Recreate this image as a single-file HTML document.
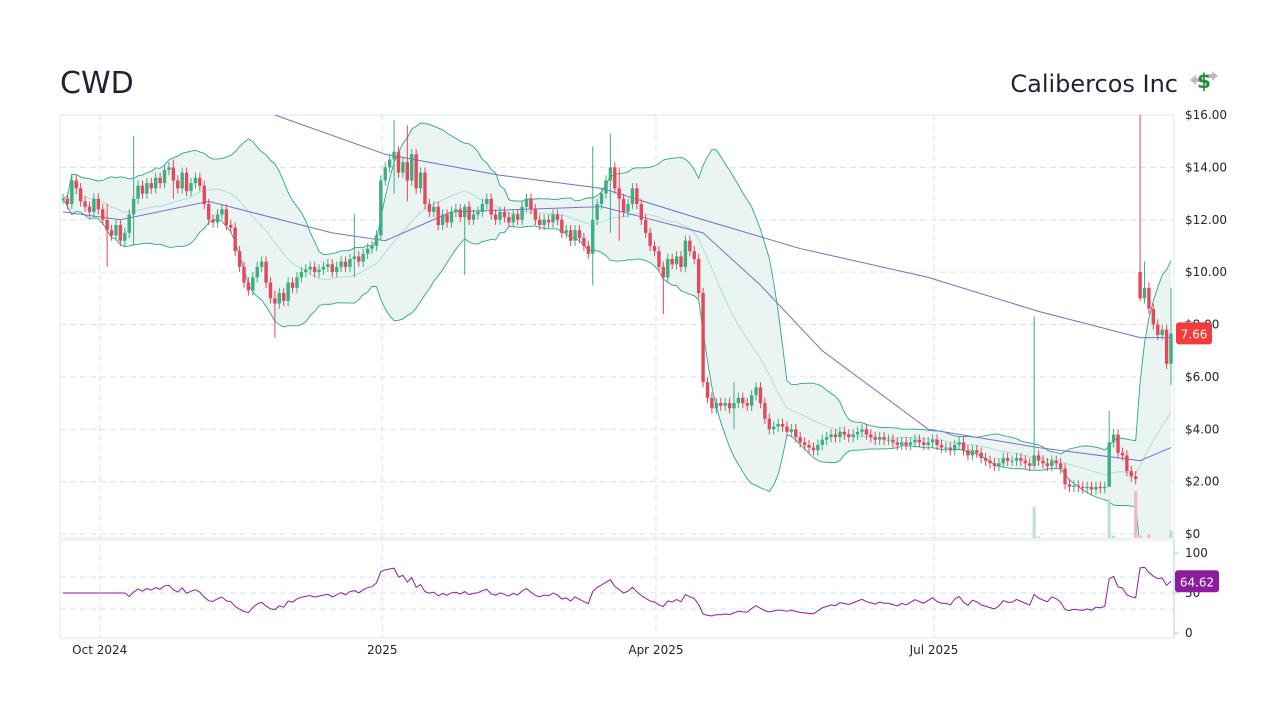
<!DOCTYPE html>
<html><head><meta charset="utf-8"><style>
body{margin:0;background:#fff;font-family:"Liberation Sans","DejaVu Sans",sans-serif}
svg text{font-family:"DejaVu Sans","Liberation Sans",sans-serif}
</style></head><body>
<svg id="c" width="1280" height="720" xmlns="http://www.w3.org/2000/svg">
<defs><clipPath id="pc"><rect x="60" y="115" width="1114" height="423"/></clipPath></defs>
<text x="60" y="93" font-size="30" fill="#1e2235">CWD</text>
<text x="1178" y="92" font-size="24" fill="#1e2235" text-anchor="end">Calibercos Inc</text>
<g>
<path d="M1190 80 l6 -5 v3 h5 v4 h-5 v3z M1218 76 l-6 -5 v3 h-5 v4 h5 v3z" fill="#bbb"/>
<text x="1204" y="88" font-size="20" font-weight="bold" fill="#1e8c3a" text-anchor="middle">$</text>
</g>
<g id="grid"></g><g clip-path="url(#pc)"><g id="bands"></g><g id="vol"></g><g id="candles"></g></g><g id="rsi"></g><g id="axes"></g>
</svg>
<script>
const closes=[12.8,12.6,13.5,13.2,12.7,12.5,12.3,12.8,12.4,
12.0,11.6,11.4,11.8,11.2,11.5,
12.2,12.8,13.3,13.0,13.4,13.2,
13.6,13.4,13.9,14.0,13.5,13.2,13.8,13.1,13.4,13.6,13.3,
12.6,12.0,11.9,12.2,12.4,11.8,11.7,
10.8,10.2,9.6,9.3,9.8,10.2,10.4,
9.6,9.0,8.8,9.2,8.9,9.6,9.4,9.8,
10.0,10.1,10.2,10.0,10.1,10.2,10.3,10.0,10.2,10.4,10.2,10.5,10.6,10.4,
10.7,10.9,11.0,11.4,
13.5,14.0,14.3,14.6,13.8,14.2,13.5,
14.5,13.2,13.8,12.6,12.3,12.5,
11.8,12.2,11.9,12.3,12.4,12.1,12.5,12.0,12.2,12.3,12.6,12.8,12.2,
12.0,12.3,12.1,11.9,12.2,12.0,12.5,12.8,12.4,12.0,11.8,
12.0,11.9,12.2,12.0,11.5,11.6,11.2,11.6,11.3,11.0,
10.7,12.0,12.6,13.0,13.5,14.0,13.2,12.8,12.3,12.6,
13.2,12.6,12.0,11.5,11.0,10.8,
10.2,9.8,10.5,10.3,10.6,10.2,11.2,10.8,10.5,
9.2,5.8,5.2,
4.8,5.0,4.9,5.0,4.8,5.0,5.2,5.0,4.9,5.3,5.6,5.0,
4.4,4.0,4.1,4.2,4.1,3.9,4.0,3.7,
3.5,3.4,3.3,3.2,3.4,3.6,3.7,
3.8,3.7,3.9,3.8,3.7,3.8,3.9,4.0,3.8,3.7,3.6,3.7,3.6,
3.6,3.5,3.4,3.5,3.4,3.5,3.6,3.5,3.4,3.5,3.6,3.4,3.3,
3.3,3.2,3.4,3.5,3.2,3.0,3.2,3.1,
2.9,2.8,2.7,2.6,2.7,2.9,2.8,
2.8,2.9,2.8,2.7,2.6,3.0,2.8,2.7,2.6,2.8,2.7,2.5,
1.9,1.8,1.85,1.8,1.75,1.8,1.7,1.8,1.75,1.8,
3.5,3.8,3.1,3.0,2.4,
2.2,2.1,
9.0,
9.4,8.6,8.0,7.6,7.8,6.5,7.66];
const spikeIdx=[10,16,25,48,66,75,78,91,120,124,126,136,152,220,237,244,245,251];
const spikeOpen=[null,null,null,null,null,null,null,null,null,null,null,null,null,null,null,10.0,null,null];
const spikeHigh=[12.6,15.2,14.3,9.3,12.2,15.8,15.6,12.6,14.8,15.3,14.0,10.4,5.8,8.3,4.7,16.0,10.4,9.4];
const spikeLow=[10.2,11.0,12.8,7.5,9.8,13.0,12.7,9.9,9.5,11.5,11.2,8.4,4.0,2.5,2.5,8.9,8.8,5.7];
const volIdx=[220,221,237,238,243,244,246,251];
const volVals=[1.2,0.05,1.5,0.08,1.8,0.1,0.15,0.3];
const sma50Idx=[0,13,33,61,73,88,122,145,158,172,196,221,244,251];
const sma50Vals=[12.3,12.0,12.7,11.5,11.2,12.3,12.5,11.5,9.5,7.0,4.0,3.3,2.8,3.3];
const sma200Idx=[48,73,99,122,145,167,196,221,244,251];
const sma200Vals=[16.0,14.5,13.7,13.2,12.0,10.9,9.8,8.5,7.5,7.5];
const priceTicks=[0,2,4,6,8,10,12,14,16];
const rsiTicks=[0,50,100];
const dateLabels=["Oct 2024","2025","Apr 2025","Jul 2025"];
const dateIdx=[9,73,135,198];

const NS="http://www.w3.org/2000/svg";
const X0=63,STEP=(1171-63)/(closes.length-1);
const xs=i=>X0+i*STEP;
const py=v=>534-v*(419/16);
const ry=v=>633-v*0.8;
function mk(p,t,a){const e=document.createElementNS(NS,t);for(const k in a)e.setAttribute(k,a[k]);p.appendChild(e);return e;}
const G=id=>document.getElementById(id);
const opens=closes.map((c,i)=>{const k=spikeIdx.indexOf(i);if(k>=0&&spikeOpen[k]!==null)return spikeOpen[k];return i?closes[i-1]:c;});

const g=G('grid');
mk(g,'rect',{x:60,y:115,width:1114,height:423,fill:'none',stroke:'#e3e8ee'});
mk(g,'rect',{x:60,y:540,width:1114,height:98,fill:'none',stroke:'#e3e8ee'});
priceTicks.forEach(t=>{const l=mk(g,'line',{x1:60,x2:1174,y1:py(t),y2:py(t),stroke:'#d5e3ea','stroke-dasharray':'6,4'});
});
[30,50,70].forEach(t=>mk(g,'line',{x1:60,x2:1174,y1:ry(t),y2:ry(t),stroke:'#cdeaf2','stroke-dasharray':'6,4'}));
dateIdx.forEach(i=>{mk(g,'line',{x1:xs(i)-3,x2:xs(i)-3,y1:115,y2:638,stroke:'#d5e3ea','stroke-dasharray':'6,4'});});

const up=[],lo=[],mid=[];
closes.forEach((c,i)=>{const s=closes.slice(Math.max(0,i-19),i+1);const m=s.reduce((a,b)=>a+b,0)/s.length;
const sd=Math.sqrt(s.reduce((a,b)=>a+(b-m)*(b-m),0)/s.length);up.push(m+2*sd);lo.push(m-2*sd);mid.push(m);});
const b=G('bands');
let d='M'+up.map((v,i)=>xs(i)+','+py(v)).join('L')+'L'+lo.map((v,i)=>xs(i)+','+py(v)).reverse().join('L')+'Z';
let e=mk(b,'path',{d:d,fill:'#e9f4f3',stroke:'none'});

[[up,'#2aa68f'],[lo,'#2aa68f'],[mid,'#a8ddd3']].forEach(([a,c])=>{
e=mk(b,'polyline',{points:a.map((v,i)=>xs(i)+','+py(v)).join(' '),fill:'none',stroke:c,'stroke-width':0.9});
});
e=mk(b,'polyline',{points:sma50Idx.map((i,k)=>xs(i)+','+py(sma50Vals[k])).join(' '),fill:'none',stroke:'#7d6fcf','stroke-width':1});

e=mk(b,'polyline',{points:sma200Idx.map((i,k)=>xs(i)+','+py(sma200Vals[k])).join(' '),fill:'none',stroke:'#6f6fcf','stroke-width':1});


const vg=G('vol');
volIdx.forEach((i,k)=>{const upc=closes[i]>=opens[i];
e=mk(vg,'rect',{x:xs(i)-1.5,y:538-volVals[k]*26,width:3,height:volVals[k]*26,fill:upc?'#b5e3cf':'#f2b8c0'});
});

const cg=G('candles');
closes.forEach((c,i)=>{const o=opens[i];const k=spikeIdx.indexOf(i);
let h=Math.max(o,c)+0.2,l=Math.min(o,c)-0.2;if(k>=0){h=Math.max(spikeHigh[k],o,c);l=Math.min(spikeLow[k],o,c);}
const col=c>=o?'#3fae7f':'#e5485a';
e=mk(cg,'line',{x1:xs(i),x2:xs(i),y1:py(h),y2:py(l),stroke:col,'stroke-width':1});

const t=py(Math.max(o,c)),bb=py(Math.min(o,c));
e=mk(cg,'rect',{x:xs(i)-1.7,y:t,width:3.4,height:Math.max(1,bb-t),fill:col});
});

const rs=[];let ag=0,al=0;
closes.forEach((c,i)=>{if(!i){rs.push(50);return;}const ch=c-closes[i-1];const gg=Math.max(ch,0),ll=Math.max(-ch,0);
if(i<=14){ag+=gg/14;al+=ll/14;rs.push(50);return;}ag=(ag*13+gg)/14;al=(al*13+ll)/14;
rs.push(al===0?100:100-100/(1+ag/al));});
rs[rs.length-1]=64.62;
e=mk(G('rsi'),'polyline',{points:rs.map((v,i)=>xs(i)+','+ry(v)).join(' '),fill:'none',stroke:'#8e1b9e','stroke-width':1});


const ax=G('axes');
mk(ax,'line',{x1:1174,x2:1174,y1:540,y2:638,stroke:'#a9d3df'});
priceTicks.forEach(t=>{e=mk(ax,'text',{x:1185,y:py(t)+4,'font-size':12,fill:'#1e2235'});e.textContent='$'+t.toFixed(t?2:0);
});
rsiTicks.forEach(t=>{mk(ax,'line',{x1:1174,x2:1179,y1:ry(t),y2:ry(t),stroke:'#a9d3df'});
e=mk(ax,'text',{x:1185,y:ry(t)+4,'font-size':12,fill:'#1e2235'});e.textContent=t;
});
dateLabels.forEach((s,k)=>{e=mk(ax,'text',{x:xs(dateIdx[k])-3,y:654,'font-size':12,fill:'#1e2235','text-anchor':'middle'});e.textContent=s;
});
const last=closes[closes.length-1];
e=mk(ax,'rect',{x:1176,y:py(last)-11,width:36,height:22,rx:3,fill:'#f23b3b'});

e=mk(ax,'text',{x:1194,y:py(last)+5,'font-size':12,fill:'#fff','text-anchor':'middle'});e.textContent=last.toFixed(2);
e=mk(ax,'rect',{x:1175,y:ry(64.62)-11,width:44,height:22,rx:3,fill:'#8e1b9e'});

e=mk(ax,'text',{x:1197,y:ry(64.62)+5,'font-size':12,fill:'#fff','text-anchor':'middle'});e.textContent='64.62';
</script>
</body></html>
